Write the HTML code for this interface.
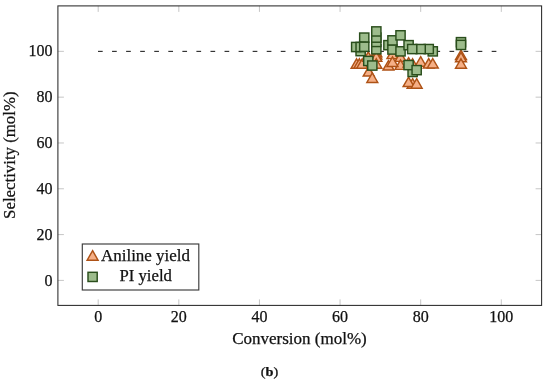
<!DOCTYPE html>
<html><head><meta charset="utf-8"><title>Selectivity vs Conversion</title>
<style>
html,body{margin:0;padding:0;background:#fff;}
svg{display:block;}
text{font-family:"Liberation Serif","DejaVu Serif",serif;fill:#111;stroke:#111;stroke-width:0.25px;}
</style></head><body>
<svg width="550" height="381" viewBox="0 0 550 381">
<rect width="550" height="381" fill="#ffffff"/>

<g stroke="#a0a0a0" stroke-width="0.6" fill="none">
<line x1="98.20" y1="305.4" x2="98.20" y2="299.4"/>
<line x1="98.20" y1="5.9" x2="98.20" y2="11.9"/>
<line x1="57.9" y1="280.40" x2="63.9" y2="280.40"/>
<line x1="541.6" y1="280.40" x2="535.6" y2="280.40"/>
<line x1="178.82" y1="305.4" x2="178.82" y2="299.4"/>
<line x1="178.82" y1="5.9" x2="178.82" y2="11.9"/>
<line x1="57.9" y1="234.59" x2="63.9" y2="234.59"/>
<line x1="541.6" y1="234.59" x2="535.6" y2="234.59"/>
<line x1="259.44" y1="305.4" x2="259.44" y2="299.4"/>
<line x1="259.44" y1="5.9" x2="259.44" y2="11.9"/>
<line x1="57.9" y1="188.78" x2="63.9" y2="188.78"/>
<line x1="541.6" y1="188.78" x2="535.6" y2="188.78"/>
<line x1="340.06" y1="305.4" x2="340.06" y2="299.4"/>
<line x1="340.06" y1="5.9" x2="340.06" y2="11.9"/>
<line x1="57.9" y1="142.97" x2="63.9" y2="142.97"/>
<line x1="541.6" y1="142.97" x2="535.6" y2="142.97"/>
<line x1="420.68" y1="305.4" x2="420.68" y2="299.4"/>
<line x1="420.68" y1="5.9" x2="420.68" y2="11.9"/>
<line x1="57.9" y1="97.16" x2="63.9" y2="97.16"/>
<line x1="541.6" y1="97.16" x2="535.6" y2="97.16"/>
<line x1="501.30" y1="305.4" x2="501.30" y2="299.4"/>
<line x1="501.30" y1="5.9" x2="501.30" y2="11.9"/>
<line x1="57.9" y1="51.35" x2="63.9" y2="51.35"/>
<line x1="541.6" y1="51.35" x2="535.6" y2="51.35"/>
</g>
<rect x="57.9" y="5.9" width="483.70000000000005" height="299.5" fill="none" stroke="#2a2a2a" stroke-width="1.05"/>
<line x1="98.00" y1="51.35" x2="501.30" y2="51.35" stroke="#111" stroke-width="1.0" stroke-dasharray="4.7 9.36"/>
<g fill="#f5af86" stroke="#ae5216" stroke-width="1.45" stroke-linejoin="miter">
<path d="M356.59 58.79L362.04 68.24L351.13 68.24Z"/>
<path d="M359.41 58.79L364.86 68.24L353.95 68.24Z"/>
<path d="M362.23 58.79L367.69 68.24L356.77 68.24Z"/>
<path d="M368.28 51.92L373.73 61.37L362.82 61.37Z"/>
<path d="M368.68 66.58L374.14 76.03L363.22 76.03Z"/>
<path d="M372.31 72.99L377.76 82.44L366.85 82.44Z"/>
<path d="M376.34 47.34L381.79 56.79L370.88 56.79Z"/>
<path d="M376.34 49.63L381.79 59.08L370.88 59.08Z"/>
<path d="M376.34 51.92L381.79 61.37L370.88 61.37Z"/>
<path d="M376.34 58.79L381.79 68.24L370.88 68.24Z"/>
<path d="M392.46 49.17L397.92 58.62L387.01 58.62Z"/>
<path d="M400.52 51.92L405.98 61.37L395.07 61.37Z"/>
<path d="M388.43 60.63L393.89 70.08L382.98 70.08Z"/>
<path d="M400.52 59.94L405.98 69.39L395.07 69.39Z"/>
<path d="M392.46 56.96L397.92 66.41L387.01 66.41Z"/>
<path d="M408.59 57.65L414.04 67.10L403.13 67.10Z"/>
<path d="M412.62 58.79L418.07 68.24L407.16 68.24Z"/>
<path d="M420.68 56.73L426.14 66.18L415.22 66.18Z"/>
<path d="M428.74 58.56L434.20 68.01L423.29 68.01Z"/>
<path d="M432.77 58.56L438.23 68.01L427.32 68.01Z"/>
<path d="M412.62 78.72L418.07 88.17L407.16 88.17Z"/>
<path d="M408.59 77.12L414.04 86.57L403.13 86.57Z"/>
<path d="M416.65 78.72L422.10 88.17L411.19 88.17Z"/>
<path d="M460.99 50.09L466.45 59.54L455.53 59.54Z"/>
<path d="M460.99 52.38L466.45 61.83L455.53 61.83Z"/>
<path d="M460.99 58.79L466.45 68.24L455.53 68.24Z"/>
</g>
<g fill="#9dbc8c" stroke="#2a4e1c" stroke-width="1.45">
<rect x="408.02" y="67.36" width="9.2" height="9.2"/>
<rect x="356.02" y="46.52" width="9.2" height="9.2"/>
<rect x="359.65" y="33.01" width="9.2" height="9.2"/>
<rect x="351.58" y="42.40" width="9.2" height="9.2"/>
<rect x="356.02" y="42.40" width="9.2" height="9.2"/>
<rect x="359.65" y="42.17" width="9.2" height="9.2"/>
<rect x="363.68" y="56.37" width="9.2" height="9.2"/>
<rect x="367.71" y="60.95" width="9.2" height="9.2"/>
<rect x="371.74" y="44.69" width="9.2" height="9.2"/>
<rect x="371.74" y="37.36" width="9.2" height="9.2"/>
<rect x="371.74" y="33.01" width="9.2" height="9.2"/>
<rect x="371.74" y="26.82" width="9.2" height="9.2"/>
<rect x="383.83" y="40.57" width="9.2" height="9.2"/>
<rect x="387.86" y="44.92" width="9.2" height="9.2"/>
<rect x="387.86" y="35.76" width="9.2" height="9.2"/>
<rect x="395.92" y="46.75" width="9.2" height="9.2"/>
<rect x="395.92" y="30.72" width="9.2" height="9.2"/>
<rect x="403.99" y="40.57" width="9.2" height="9.2"/>
<rect x="428.17" y="46.75" width="9.2" height="9.2"/>
<rect x="424.14" y="44.46" width="9.2" height="9.2"/>
<rect x="416.08" y="44.46" width="9.2" height="9.2"/>
<rect x="407.61" y="44.46" width="9.2" height="9.2"/>
<rect x="403.99" y="60.49" width="9.2" height="9.2"/>
<rect x="412.05" y="65.53" width="9.2" height="9.2"/>
<rect x="456.39" y="37.59" width="9.2" height="9.2"/>
<rect x="456.39" y="40.34" width="9.2" height="9.2"/>
</g>
<rect x="82.3" y="244" width="116.5" height="46" fill="#fff" stroke="#3c3c3c" stroke-width="1.15"/>
<path d="M92.60 250.70L98.06 260.15L87.14 260.15Z" fill="#f5af86" stroke="#ae5216" stroke-width="1.45"/>
<rect x="88.00" y="272.30" width="9.2" height="9.2" fill="#9dbc8c" stroke="#2a4e1c" stroke-width="1.45"/>
<text x="101" y="261.3" font-size="16" textLength="89" lengthAdjust="spacingAndGlyphs">Aniline yield</text>
<text x="119.5" y="281.1" font-size="16" textLength="52.4" lengthAdjust="spacingAndGlyphs">PI yield</text>
<text x="98.20" y="322.0" font-size="16" text-anchor="middle">0</text>
<text x="52.4" y="285.50" font-size="16" text-anchor="end">0</text>
<text x="178.82" y="322.0" font-size="16" text-anchor="middle">20</text>
<text x="52.4" y="239.69" font-size="16" text-anchor="end">20</text>
<text x="259.44" y="322.0" font-size="16" text-anchor="middle">40</text>
<text x="52.4" y="193.88" font-size="16" text-anchor="end">40</text>
<text x="340.06" y="322.0" font-size="16" text-anchor="middle">60</text>
<text x="52.4" y="148.07" font-size="16" text-anchor="end">60</text>
<text x="420.68" y="322.0" font-size="16" text-anchor="middle">80</text>
<text x="52.4" y="102.26" font-size="16" text-anchor="end">80</text>
<text x="501.30" y="322.0" font-size="16" text-anchor="middle">100</text>
<text x="52.4" y="56.45" font-size="16" text-anchor="end">100</text>
<text x="232.2" y="343.8" font-size="16" textLength="134.6" lengthAdjust="spacingAndGlyphs">Conversion (mol%)</text>
<text transform="translate(15,218.9) rotate(-90)" font-size="16" textLength="127.4" lengthAdjust="spacingAndGlyphs">Selectivity (mol%)</text>
<text x="260.7" y="376.0" font-size="13.5" textLength="17.5" lengthAdjust="spacingAndGlyphs">(<tspan font-weight="bold">b</tspan>)</text>
</svg></body></html>
